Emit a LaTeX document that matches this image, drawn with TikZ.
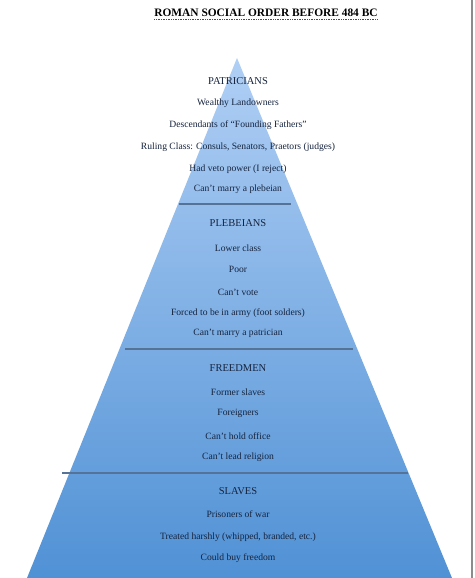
\documentclass[tikz,border=0pt]{standalone}
\usepackage{fontspec}
\setmainfont{Liberation Serif}
\definecolor{pyrtop}{RGB}{176,207,245}
\definecolor{pyrbot}{RGB}{80,145,213}
\definecolor{txt}{RGB}{22,36,62}
\definecolor{divider}{RGB}{85,115,150}
\definecolor{pageedge}{RGB}{140,140,140}
\tikzset{
  item/.style={text=txt,font=\fontsize{9.6}{11}\selectfont,inner sep=0pt,anchor=center},
  head/.style={text=txt,font=\fontsize{10.5}{12}\selectfont,inner sep=0pt,anchor=center},
  divline/.style={draw=divider,line width=1.6pt},
}
\begin{document}
\begin{tikzpicture}[x=1pt,y=-1pt]
\useasboundingbox (0,0) rectangle (474,578);
\fill[white] (0,0) rectangle (474,578);
% pyramid
\shade[top color=pyrtop,bottom color=pyrbot] (237,58) -- (452,578) -- (27,578) -- cycle;
% page edge
\draw[pageedge,line width=2pt] (472,0) -- (472,578);
% dividers
\draw[divline] (179,204) -- (291,204);
\draw[divline] (125,349) -- (353,349);
\draw[divline] (62,473) -- (408,473);
% title
\node[text=black,font=\bfseries\fontsize{11.4}{13}\selectfont,inner sep=0pt] (title) at (266,13) {ROMAN SOCIAL ORDER BEFORE 484 BC};
\draw[black!70,densely dotted,line width=0.7pt] ([yshift=-2pt]title.south west) -- ([yshift=-2pt]title.south east);
% patricians
\node[head] (pat) at (238,81) {PATRICIANS};
\node[item] (p1) at (238,103) {Wealthy Landowners};
\node[item] (p2) at (238,125) {Descendants of “Founding Fathers”};
\node[item] (p3) at (238,147) {Ruling Class: Consuls, Senators, Praetors (judges)};
\node[item] (p4) at (238,169) {Had veto power (I reject)};
\node[item] (p5) at (238,189) {Can’t marry a plebeian};
% plebeians
\node[head] (ple) at (238,223) {PLEBEIANS};
\node[item] (l1) at (238,248) {Lower class};
\node[item] (l2) at (238,269) {Poor};
\node[item] (l3) at (238,292) {Can’t vote};
\node[item] (l4) at (238,313) {Forced to be in army (foot solders)};
\node[item] (l5) at (238,333) {Can’t marry a patrician};
% freedmen
\node[head] (fre) at (238,368) {FREEDMEN};
\node[item] (f1) at (238,392) {Former slaves};
\node[item] (f2) at (238,413) {Foreigners};
\node[item] (f3) at (238,436) {Can’t hold office};
\node[item] (f4) at (238,457) {Can’t lead religion};
% slaves
\node[head] (sla) at (238,491) {SLAVES};
\node[item] (s1) at (238,514) {Prisoners of war};
\node[item] (s2) at (238,537) {Treated harshly (whipped, branded, etc.)};
\node[item] (s3) at (238,558) {Could buy freedom};
\end{tikzpicture}
\end{document}
